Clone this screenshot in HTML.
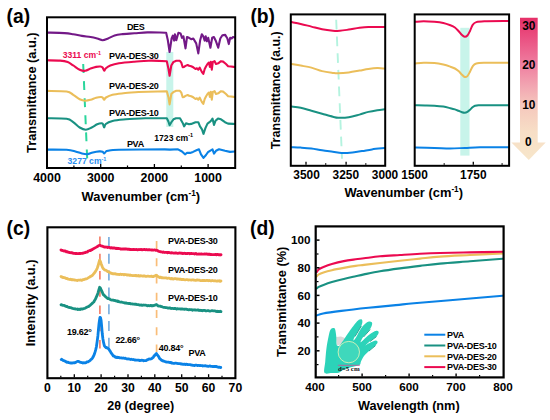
<!DOCTYPE html>
<html><head><meta charset="utf-8"><style>
html,body{margin:0;padding:0;background:#fff;}
body{width:550px;height:420px;overflow:hidden;}
svg{display:block;font-family:"Liberation Sans",sans-serif;}
</style></head><body>
<svg width="550" height="420" viewBox="0 0 550 420">
<rect width="550" height="420" fill="#fff"/>
<rect x="166.3" y="52" width="7" height="75" fill="#c8f4ea"/>
<line x1="83.2" y1="64" x2="87.2" y2="159" stroke="#2ad69c" stroke-width="2" stroke-dasharray="9,8.1"/>
<path d="M47.00,32.60 C49.92,32.68 60.13,32.83 64.50,33.10 C68.87,33.37 70.30,33.73 73.20,34.20 C76.10,34.67 79.00,35.43 81.90,35.90 C84.80,36.37 88.05,36.57 90.60,37.00 C93.15,37.43 95.20,37.97 97.20,38.50 C99.20,39.03 100.78,40.20 102.60,40.20 C104.42,40.20 106.10,39.28 108.10,38.50 C110.10,37.72 112.42,36.22 114.60,35.50 C116.78,34.78 117.92,34.57 121.20,34.20 C124.48,33.83 129.93,33.60 134.30,33.30 C138.67,33.00 143.12,32.53 147.40,32.40 C151.68,32.27 156.87,32.42 160.00,32.50 C163.13,32.58 165.17,32.83 166.20,32.90 L167.80,40.00 L169.60,52.00 L171.60,38.50 L172.80,35.60 L174.20,40.60 L174.90,34.20 L176.30,40.20 L178.40,32.80 L180.60,33.50 L182.00,37.80 L183.40,36.30 L185.50,48.40 L187.00,37.00 L189.00,37.80 L191.20,39.20 L193.30,38.50 L196.20,43.40 L198.30,53.40 L200.10,40.60 L201.80,34.20 L203.30,36.30 L204.70,40.60 L205.70,36.30 L206.80,41.30 L208.20,37.80 L210.40,47.70 L212.20,37.80 L213.90,37.00 L216.00,41.30 L218.20,47.70 L220.30,38.50 L222.40,35.20 L225.20,34.90 L227.40,38.50 L228.80,44.10 L230.20,37.80 L231.60,38.50 L233.00,37.00 L235.00,37.50" fill="none" stroke="#731987" stroke-width="2.1" stroke-linejoin="round" stroke-linecap="round"/>
<path d="M47.00,60.30 C49.18,60.35 56.65,60.30 60.10,60.60 C63.55,60.90 65.52,61.30 67.70,62.10 C69.88,62.90 71.20,64.13 73.20,65.40 C75.20,66.67 77.70,68.80 79.70,69.70 C81.70,70.60 83.38,70.98 85.20,70.80 C87.02,70.62 88.78,69.25 90.60,68.60 C92.42,67.95 94.45,67.25 96.10,66.90 C97.75,66.55 99.42,66.40 100.50,66.50 C101.58,66.60 101.98,66.78 102.60,67.50 C103.22,68.22 103.65,70.68 104.20,70.80 C104.75,70.92 104.88,69.10 105.90,68.20 C106.92,67.30 108.12,66.23 110.30,65.40 C112.48,64.57 115.00,63.82 119.00,63.20 C123.00,62.58 128.85,62.13 134.30,61.70 C139.75,61.27 148.80,60.78 151.70,60.60 L166.80,61.20 L168.50,69.00 L169.60,75.80 L171.30,65.50 L173.50,61.90 L176.30,60.80 L179.90,60.80 L181.30,62.60 L182.70,67.30 L184.10,66.90 L185.50,65.90 L187.70,65.00 L189.10,65.80 L191.20,66.20 L193.30,67.30 L195.50,69.00 L196.90,68.30 L198.30,69.70 L199.70,67.60 L201.80,71.90 L203.30,74.00 L204.70,69.00 L206.10,66.20 L207.50,64.00 L208.90,62.60 L209.90,66.90 L210.80,61.90 L211.80,69.70 L212.80,61.90 L214.60,61.20 L216.00,64.00 L218.20,63.30 L221.00,61.20 L223.10,61.60 L226.00,64.00 L228.10,66.20 L230.90,66.50 L233.80,66.90 L235.00,67.00" fill="none" stroke="#eb0a50" stroke-width="2.1" stroke-linejoin="round" stroke-linecap="round"/>
<path d="M47.00,90.90 C50.27,91.00 62.23,90.85 66.60,91.50 C70.97,92.15 71.02,93.52 73.20,94.80 C75.38,96.08 77.70,98.22 79.70,99.20 C81.70,100.18 83.38,100.60 85.20,100.70 C87.02,100.80 88.78,100.30 90.60,99.80 C92.42,99.30 94.35,98.17 96.10,97.70 C97.85,97.23 99.98,96.98 101.10,97.00 C102.22,97.02 102.28,97.33 102.80,97.80 C103.32,98.27 103.67,99.85 104.20,99.80 C104.73,99.75 104.62,98.33 106.00,97.50 C107.38,96.67 109.60,95.50 112.50,94.80 C115.40,94.10 119.05,93.77 123.40,93.30 C127.75,92.83 136.07,92.22 138.60,92.00 L166.80,91.20 L168.50,97.60 L169.60,104.40 L171.30,94.10 L173.50,91.90 L176.30,90.80 L179.90,90.80 L181.30,92.60 L182.70,97.30 L184.10,96.90 L185.50,95.90 L187.70,95.00 L189.10,95.80 L191.20,96.20 L193.30,97.30 L195.50,99.00 L196.90,98.30 L198.30,99.70 L199.70,97.60 L201.80,101.90 L203.30,104.00 L204.70,99.00 L206.10,96.20 L207.50,94.00 L208.90,92.60 L209.90,96.90 L210.80,91.90 L211.80,99.70 L212.80,91.90 L214.60,91.20 L216.00,94.00 L218.20,93.30 L221.00,91.20 L223.10,91.60 L226.00,94.00 L228.10,96.20 L230.90,96.50 L233.80,96.90 L235.00,97.00" fill="none" stroke="#ebbe5a" stroke-width="2.1" stroke-linejoin="round" stroke-linecap="round"/>
<path d="M47.00,118.20 C50.27,118.30 62.23,118.15 66.60,118.80 C70.97,119.45 71.02,120.65 73.20,122.10 C75.38,123.55 77.60,126.23 79.70,127.50 C81.80,128.77 83.80,129.70 85.80,129.70 C87.80,129.70 89.80,128.40 91.70,127.50 C93.60,126.60 95.57,125.02 97.20,124.30 C98.83,123.58 100.55,123.25 101.50,123.20 C102.45,123.15 102.45,123.28 102.90,124.00 C103.35,124.72 103.72,127.50 104.20,127.50 C104.68,127.50 104.42,125.08 105.80,124.00 C107.18,122.92 109.57,121.75 112.50,121.00 C115.43,120.25 117.95,119.97 123.40,119.50 C128.85,119.03 141.57,118.42 145.20,118.20 L166.80,118.20 L168.40,121.50 L169.60,125.20 L171.50,122.00 L173.50,119.30 L176.00,118.20 L180.00,118.20 L182.70,122.90 L184.10,126.40 L186.00,123.30 L189.00,124.30 L191.20,123.90 L195.50,122.20 L198.30,122.20 L200.00,126.40 L202.00,129.30 L203.50,133.80 L205.50,127.90 L207.50,123.60 L209.50,122.20 L211.00,120.80 L212.50,118.60 L214.00,125.00 L215.50,120.80 L218.00,118.60 L221.00,119.30 L225.00,122.20 L228.00,123.60 L233.00,123.90 L235.00,124.00" fill="none" stroke="#199182" stroke-width="2.1" stroke-linejoin="round" stroke-linecap="round"/>
<path d="M47.00,149.60 C50.27,149.63 61.87,149.50 66.60,149.80 C71.33,150.10 72.85,150.78 75.40,151.40 C77.95,152.02 79.90,153.03 81.90,153.50 C83.90,153.97 85.58,154.37 87.40,154.20 C89.22,154.03 90.80,152.97 92.80,152.50 C94.80,152.03 97.77,151.52 99.40,151.40 C101.03,151.28 101.80,151.45 102.60,151.80 C103.40,152.15 103.63,153.55 104.20,153.50 C104.77,153.45 105.35,151.97 106.00,151.50 C106.65,151.03 105.93,150.98 108.10,150.70 C110.27,150.42 109.55,150.02 119.00,149.80 C128.45,149.58 157.17,149.47 164.80,149.40 L170.00,149.60 L178.00,149.30 L182.00,151.50 L185.00,154.30 L187.00,152.90 L190.00,152.90 L193.00,151.90 L197.00,150.00 L199.00,149.30 L201.00,154.30 L203.50,157.90 L206.00,155.00 L208.00,152.20 L210.00,150.80 L212.50,149.30 L214.00,153.60 L216.00,150.80 L219.00,149.30 L225.00,150.80 L230.00,151.90 L235.00,151.50" fill="none" stroke="#0a82e6" stroke-width="2.1" stroke-linejoin="round" stroke-linecap="round"/>
<rect x="47" y="17.3" width="188.2" height="150.7" fill="none" stroke="#000" stroke-width="2"/>
<line x1="100.7" y1="167" x2="100.7" y2="164" stroke="#000" stroke-width="1.3"/>
<line x1="154.4" y1="167" x2="154.4" y2="164" stroke="#000" stroke-width="1.3"/>
<line x1="208.1" y1="167" x2="208.1" y2="164" stroke="#000" stroke-width="1.3"/>
<line x1="73.9" y1="167" x2="73.9" y2="165.5" stroke="#000" stroke-width="1.2"/>
<line x1="127.5" y1="167" x2="127.5" y2="165.5" stroke="#000" stroke-width="1.2"/>
<line x1="181.3" y1="167" x2="181.3" y2="165.5" stroke="#000" stroke-width="1.2"/>
<text x="47" y="181.7" font-size="12.4" font-weight="bold" fill="#000" text-anchor="middle" >4000</text>
<text x="100.7" y="181.7" font-size="12.4" font-weight="bold" fill="#000" text-anchor="middle" >3000</text>
<text x="154.4" y="181.7" font-size="12.4" font-weight="bold" fill="#000" text-anchor="middle" >2000</text>
<text x="208.1" y="181.7" font-size="12.4" font-weight="bold" fill="#000" text-anchor="middle" >1000</text>
<text x="81.6" y="201.3" font-size="12.9" font-weight="bold">Wavenumber (cm<tspan font-size="8.2" dy="-5.2">-1</tspan><tspan dy="5.2">)</tspan></text>
<text transform="translate(35.8,92.7) rotate(-90)" font-size="12.75" font-weight="bold" text-anchor="middle">Transmittance (a.u.)</text>
<text x="6.6" y="22.6" font-size="19.3" font-weight="bold" fill="#000" text-anchor="start" >(a)</text>
<text x="126.9" y="30" font-size="9" font-weight="bold" fill="#000" text-anchor="start" letter-spacing="-0.28">DES</text>
<text x="109" y="58.5" font-size="9" font-weight="bold" fill="#000" text-anchor="start" letter-spacing="-0.28">PVA-DES-30</text>
<text x="109" y="89" font-size="9" font-weight="bold" fill="#000" text-anchor="start" letter-spacing="-0.28">PVA-DES-20</text>
<text x="109" y="116.2" font-size="9" font-weight="bold" fill="#000" text-anchor="start" letter-spacing="-0.28">PVA-DES-10</text>
<text x="126.9" y="146.6" font-size="9" font-weight="bold" fill="#000" text-anchor="start" letter-spacing="-0.28">PVA</text>
<text x="62.7" y="58.3" font-size="8.6" font-weight="bold" fill="#eb0a50">3311 cm<tspan font-size="5.5" dy="-3.5">-1</tspan></text>
<text x="67.6" y="164.3" font-size="8.6" font-weight="bold" fill="#2a8ef0">3277 cm<tspan font-size="5.5" dy="-3.5">-1</tspan></text>
<text x="154.3" y="140.5" font-size="8.6" font-weight="bold">1723 cm<tspan font-size="5.5" dy="-3.5">-1</tspan></text>
<text x="250.4" y="22.6" font-size="19.3" font-weight="bold" fill="#000" text-anchor="start" >(b)</text>
<text transform="translate(280.1,90.3) rotate(-90)" font-size="12.5" font-weight="bold" text-anchor="middle">Transmittance (a.u.)</text>
<line x1="336.2" y1="19.8" x2="342" y2="158.8" stroke="#b4f3df" stroke-width="1.9" stroke-dasharray="9.7,7"/>
<path d="M291.50,22.10 C293.03,22.40 297.38,23.15 300.70,23.90 C304.02,24.65 307.83,25.70 311.40,26.60 C314.97,27.50 318.53,28.62 322.10,29.30 C325.67,29.98 329.83,30.45 332.80,30.70 C335.77,30.95 337.23,30.98 339.90,30.80 C342.57,30.62 345.53,30.10 348.80,29.60 C352.07,29.10 356.23,28.25 359.50,27.80 C362.77,27.35 365.43,27.02 368.40,26.90 C371.37,26.78 374.62,27.07 377.30,27.10 C379.98,27.13 383.30,27.10 384.50,27.10" fill="none" stroke="#eb0a50" stroke-width="2.0" stroke-linejoin="round" stroke-linecap="round" />
<path d="M291.50,64.00 C293.03,64.27 297.38,65.00 300.70,65.60 C304.02,66.20 307.83,66.68 311.40,67.60 C314.97,68.52 318.53,70.22 322.10,71.10 C325.67,71.98 330.13,72.53 332.80,72.90 C335.47,73.27 335.43,73.38 338.10,73.30 C340.77,73.22 345.23,72.85 348.80,72.40 C352.37,71.95 356.23,71.17 359.50,70.60 C362.77,70.03 365.43,69.42 368.40,69.00 C371.37,68.58 374.62,68.18 377.30,68.10 C379.98,68.02 383.30,68.43 384.50,68.50" fill="none" stroke="#ebbe5a" stroke-width="2.0" stroke-linejoin="round" stroke-linecap="round" />
<path d="M291.50,106.60 C293.03,106.80 297.38,107.12 300.70,107.80 C304.02,108.48 307.83,109.72 311.40,110.70 C314.97,111.68 318.53,112.70 322.10,113.70 C325.67,114.70 330.13,116.02 332.80,116.70 C335.47,117.38 335.43,117.70 338.10,117.80 C340.77,117.90 345.23,117.83 348.80,117.30 C352.37,116.77 356.23,115.50 359.50,114.60 C362.77,113.70 365.43,112.63 368.40,111.90 C371.37,111.17 374.62,110.63 377.30,110.20 C379.98,109.77 383.30,109.45 384.50,109.30" fill="none" stroke="#199182" stroke-width="2.0" stroke-linejoin="round" stroke-linecap="round" />
<path d="M291.50,147.20 C293.03,147.27 297.38,147.38 300.70,147.60 C304.02,147.82 307.83,148.05 311.40,148.50 C314.97,148.95 318.53,149.77 322.10,150.30 C325.67,150.83 329.53,151.27 332.80,151.70 C336.07,152.13 338.42,152.78 341.70,152.90 C344.98,153.02 349.12,152.70 352.50,152.40 C355.88,152.10 358.75,151.60 362.00,151.10 C365.25,150.60 368.25,149.90 372.00,149.40 C375.75,148.90 382.42,148.32 384.50,148.10" fill="none" stroke="#0a82e6" stroke-width="2.0" stroke-linejoin="round" stroke-linecap="round" />
<rect x="290.8" y="14.4" width="94.4" height="151.4" fill="none" stroke="#000" stroke-width="2"/>
<line x1="306" y1="164.8" x2="306" y2="161.8" stroke="#000" stroke-width="1.3"/>
<line x1="346.1" y1="164.8" x2="346.1" y2="161.8" stroke="#000" stroke-width="1.3"/>
<line x1="325.7" y1="164.8" x2="325.7" y2="163.3" stroke="#000" stroke-width="1.2"/>
<line x1="365.8" y1="164.8" x2="365.8" y2="163.3" stroke="#000" stroke-width="1.2"/>
<text x="306.6" y="179" font-size="11.9" font-weight="bold" fill="#000" text-anchor="middle" >3500</text>
<text x="345.8" y="179" font-size="11.9" font-weight="bold" fill="#000" text-anchor="middle" >3250</text>
<text x="385" y="179" font-size="11.9" font-weight="bold" fill="#000" text-anchor="middle" >3000</text>
<rect x="460.3" y="27.8" width="9.2" height="127.8" fill="#c8f4ea"/>
<path d="M415.50,21.80 C416.87,21.70 420.55,21.20 423.70,21.20 C426.85,21.20 431.13,21.50 434.40,21.80 C437.67,22.10 440.63,22.42 443.30,23.00 C445.97,23.58 448.47,24.55 450.40,25.30 C452.33,26.05 453.55,26.55 454.90,27.50 C456.25,28.45 457.32,29.75 458.50,31.00 C459.68,32.25 460.97,34.05 462.00,35.00 C463.03,35.95 463.80,36.62 464.70,36.70 C465.60,36.78 466.52,36.45 467.40,35.50 C468.28,34.55 469.12,32.78 470.00,31.00 C470.88,29.22 471.65,26.28 472.70,24.80 C473.75,23.32 474.37,22.70 476.30,22.10 C478.23,21.50 478.93,21.40 484.30,21.20 C489.67,21.00 504.47,20.95 508.50,20.90" fill="none" stroke="#eb0a50" stroke-width="2.0" stroke-linejoin="round" stroke-linecap="round" />
<path d="M415.50,63.50 C416.87,63.38 420.55,62.87 423.70,62.80 C426.85,62.73 431.13,62.80 434.40,63.10 C437.67,63.40 440.63,64.00 443.30,64.60 C445.97,65.20 448.47,66.05 450.40,66.70 C452.33,67.35 453.55,67.77 454.90,68.50 C456.25,69.23 457.32,70.07 458.50,71.10 C459.68,72.13 460.97,73.72 462.00,74.70 C463.03,75.68 463.80,76.77 464.70,77.00 C465.60,77.23 466.52,76.98 467.40,76.10 C468.28,75.22 469.12,73.33 470.00,71.70 C470.88,70.07 471.65,67.67 472.70,66.30 C473.75,64.93 474.37,64.08 476.30,63.50 C478.23,62.92 478.93,62.92 484.30,62.80 C489.67,62.68 504.47,62.80 508.50,62.80" fill="none" stroke="#ebbe5a" stroke-width="2.0" stroke-linejoin="round" stroke-linecap="round" />
<path d="M415.50,105.30 C417.08,105.32 421.85,105.33 425.00,105.40 C428.15,105.47 431.35,105.50 434.40,105.70 C437.45,105.90 440.63,106.18 443.30,106.60 C445.97,107.02 448.47,107.73 450.40,108.20 C452.33,108.67 453.55,108.97 454.90,109.40 C456.25,109.83 457.32,110.32 458.50,110.80 C459.68,111.28 460.97,111.97 462.00,112.30 C463.03,112.63 463.80,112.87 464.70,112.80 C465.60,112.73 466.52,112.40 467.40,111.90 C468.28,111.40 469.15,110.57 470.00,109.80 C470.85,109.03 471.67,107.97 472.50,107.30 C473.33,106.63 474.00,106.13 475.00,105.80 C476.00,105.47 476.00,105.38 478.50,105.30 C481.00,105.22 485.00,105.30 490.00,105.30 C495.00,105.30 505.42,105.30 508.50,105.30" fill="none" stroke="#199182" stroke-width="2.0" stroke-linejoin="round" stroke-linecap="round" />
<path d="M415.50,147.60 C418.65,147.65 428.65,147.75 434.40,147.90 C440.15,148.05 444.90,148.50 450.00,148.50 C455.10,148.50 460.00,148.12 465.00,147.90 C470.00,147.68 472.75,147.32 480.00,147.20 C487.25,147.08 503.75,147.20 508.50,147.20" fill="none" stroke="#0a82e6" stroke-width="2.0" stroke-linejoin="round" stroke-linecap="round" />
<rect x="414.7" y="14.4" width="94.4" height="151.4" fill="none" stroke="#000" stroke-width="2"/>
<line x1="473.3" y1="164.8" x2="473.3" y2="161.8" stroke="#000" stroke-width="1.3"/>
<line x1="444.2" y1="164.8" x2="444.2" y2="163.3" stroke="#000" stroke-width="1.2"/>
<line x1="502.1" y1="164.8" x2="502.1" y2="163.3" stroke="#000" stroke-width="1.2"/>
<text x="414.6" y="179" font-size="11.9" font-weight="bold" fill="#000" text-anchor="middle" >1500</text>
<text x="473.3" y="179" font-size="11.9" font-weight="bold" fill="#000" text-anchor="middle" >1750</text>
<text x="344.4" y="197.4" font-size="12.9" font-weight="bold">Wavenumber (cm<tspan font-size="8.2" dy="-5.2">-1</tspan><tspan dy="5.2">)</tspan></text>
<defs><linearGradient id="gb" x1="0" y1="0" x2="0" y2="1">
<stop offset="0" stop-color="#e62f68"/><stop offset="0.15" stop-color="#ea5283"/><stop offset="0.33" stop-color="#ef7fa0"/><stop offset="0.48" stop-color="#f2a6b2"/><stop offset="0.62" stop-color="#f5c8bd"/><stop offset="0.8" stop-color="#f7dec6"/><stop offset="1" stop-color="#f7e6ca"/></linearGradient></defs>
<path d="M520,17.8 L537.7,17.8 L537.7,142.6 L545.7,142.6 L528.8,160 L511.4,142.6 L520,142.6 Z" fill="url(#gb)"/>
<text x="528.8" y="29.6" font-size="11.9" font-weight="bold" fill="#000" text-anchor="middle" >30</text>
<text x="528.8" y="69.2" font-size="11.9" font-weight="bold" fill="#000" text-anchor="middle" >20</text>
<text x="528.8" y="108.6" font-size="11.9" font-weight="bold" fill="#000" text-anchor="middle" >10</text>
<text x="528.4" y="146.4" font-size="11.9" font-weight="bold" fill="#000" text-anchor="middle" >0</text>
<text x="6.6" y="235.4" font-size="19.3" font-weight="bold" fill="#000" text-anchor="start" >(c)</text>
<text transform="translate(35.3,302.9) rotate(-90)" font-size="12.8" font-weight="bold" text-anchor="middle">Intensity (a.u.)</text>
<line x1="99.9" y1="236.4" x2="99.9" y2="349" stroke="#f5826c" stroke-width="1.7" stroke-dasharray="8.5,8.77"/>
<line x1="108.9" y1="237" x2="108.9" y2="349" stroke="#7cb0e0" stroke-width="1.7" stroke-dasharray="10,6.8"/>
<line x1="156.6" y1="241" x2="156.6" y2="352" stroke="#f9bd78" stroke-width="1.7" stroke-dasharray="8,9.25"/>
<polyline points="61.0,249.9 61.5,250.3 62.2,250.4 63.0,250.7 63.8,251.0 64.8,250.9 65.7,251.1 66.3,251.8 67.0,251.6 67.7,251.8 68.4,252.4 69.2,252.3 69.9,252.7 70.6,252.6 71.4,252.9 72.1,252.7 72.8,253.1 73.5,253.4 74.3,253.3 75.0,253.5 75.7,253.6 76.4,253.3 77.2,253.7 77.9,253.7 78.6,253.5 79.3,253.3 80.0,253.7 80.8,253.4 81.5,253.4 82.2,253.4 82.9,253.1 83.6,253.1 84.3,252.6 85.0,252.7 85.8,252.2 86.7,252.2 87.4,251.9 88.2,251.1 89.0,250.8 89.7,250.5 90.4,250.7 91.3,249.9 92.2,249.6 93.0,249.0 93.8,248.6 94.6,248.1 95.5,247.6 96.4,247.1 97.2,246.6 97.9,246.3 98.8,245.5 99.6,245.3 100.3,245.4 101.1,246.0 102.1,246.2 102.7,246.1 103.2,246.7 103.9,246.9 104.6,247.0 105.4,247.0 106.4,247.2 107.0,247.0 107.5,247.5 108.1,247.4 108.8,247.3 109.5,247.3 110.2,247.9 110.9,248.0 111.7,247.6 112.4,248.1 113.3,248.0 114.1,247.9 115.0,248.1 115.6,248.4 116.2,248.6 116.9,248.1 117.6,248.5 118.3,248.3 119.0,248.7 119.7,248.6 120.5,249.0 121.2,249.1 122.0,248.9 122.7,249.2 123.5,248.9 124.3,248.8 125.0,249.2 125.7,248.9 126.5,249.0 127.2,249.2 127.9,249.4 128.6,249.1 129.3,249.1 130.0,249.6 130.7,249.3 131.4,249.7 132.1,249.7 132.7,249.4 133.4,249.5 134.1,249.5 134.8,249.6 135.5,249.6 136.2,249.5 136.9,249.6 137.6,249.8 138.4,249.6 139.2,249.5 140.0,249.7 140.6,249.5 141.3,249.5 142.0,249.9 142.7,249.7 143.5,249.7 144.3,249.4 145.1,249.7 145.9,249.8 146.7,249.5 147.5,249.9 148.3,249.9 149.1,249.6 149.9,249.9 150.6,249.9 151.4,250.0 152.1,249.9 152.8,250.1 153.5,250.2 154.1,249.8 154.7,249.8 155.3,250.2 155.8,250.4 156.2,250.1 157.7,250.5 158.0,250.9 158.2,251.1 159.2,251.5 159.7,251.6 160.2,251.7 160.8,251.9 161.3,251.8 162.0,252.0 162.6,252.3 163.3,251.9 164.0,252.3 164.8,252.5 165.6,252.3 166.5,252.3 167.4,252.8 168.3,252.5 169.3,252.5 170.3,252.8 170.9,253.0 171.5,252.6 172.1,252.8 172.8,252.8 173.4,253.2 174.1,253.0 174.8,253.2 175.6,252.9 176.3,253.0 177.0,253.2 177.8,253.4 178.6,253.2 179.4,253.0 180.1,253.0 180.9,253.3 181.7,253.1 182.5,253.5 183.3,253.5 184.1,253.2 184.8,253.3 185.6,253.6 186.4,253.5 187.1,253.7 187.8,253.4 188.6,253.3 189.3,253.4 189.9,253.8 190.6,253.5 191.4,253.5 192.2,253.6 193.0,253.6 193.8,253.7 194.6,254.0 195.3,253.6 196.1,253.5 196.8,254.1 197.6,254.1 198.3,254.2 199.0,253.9 199.7,254.2 200.4,254.2 201.2,253.8 201.9,254.2 202.6,254.2 203.2,254.2 203.9,254.1 204.6,254.0 205.3,254.1 206.0,254.0 206.7,253.9 207.5,254.3 208.3,254.1 209.1,254.5 209.9,254.1 210.7,254.6 211.6,254.5 212.4,254.7 213.2,254.7 214.1,254.7 214.9,254.6 215.6,254.3 216.4,254.8 217.1,254.4 217.8,254.5 218.5,254.8 219.1,254.7 219.6,254.7 220.2,255.0 220.6,254.9 221.0,254.7" fill="none" stroke="#eb0a50" stroke-width="2.8" stroke-linejoin="round" stroke-linecap="round" />
<polyline points="61.0,276.5 61.5,277.0 62.2,277.0 63.0,277.5 63.8,277.5 64.8,277.7 65.7,278.2 66.3,278.6 67.0,278.4 67.7,278.9 68.4,279.2 69.2,279.3 69.9,279.5 70.6,279.1 71.4,279.6 72.1,279.9 72.8,279.6 73.5,279.8 74.3,279.9 75.0,280.2 75.7,280.2 76.4,280.3 77.2,280.5 77.9,280.1 78.6,280.1 79.3,280.1 80.0,280.1 80.8,280.0 81.5,280.4 82.2,280.2 82.9,279.6 83.6,279.7 84.3,279.4 85.0,279.2 85.8,278.9 86.7,278.8 87.4,278.4 88.2,277.9 89.0,277.4 89.7,277.0 90.4,276.5 91.3,276.1 92.2,275.5 93.0,274.6 93.8,273.6 94.6,272.7 95.5,271.4 96.4,269.9 97.2,268.3 97.9,266.3 98.9,262.7 99.6,260.1 100.4,261.4 101.3,264.2 102.2,266.6 103.2,268.7 103.9,269.2 104.7,269.9 105.5,270.2 106.4,270.5 107.1,271.1 107.8,271.6 108.5,271.6 109.2,272.2 110.0,272.6 110.7,273.1 111.3,273.4 111.8,273.2 112.3,273.7 112.9,273.8 113.8,273.6 115.0,273.9 115.5,273.7 116.0,274.2 116.6,274.2 117.2,274.4 117.9,274.4 118.5,274.4 119.2,274.5 120.0,274.4 120.7,274.2 121.5,274.6 122.3,274.3 123.1,274.4 123.9,274.9 124.7,274.5 125.5,274.6 126.3,274.6 127.1,275.2 127.9,274.8 128.6,274.8 129.3,275.3 130.0,274.9 130.7,275.4 131.4,275.4 132.2,275.5 133.0,275.7 133.7,275.5 134.5,275.7 135.3,275.3 136.1,275.8 136.8,275.7 137.6,275.8 138.4,275.5 139.1,276.0 139.9,276.1 140.6,275.6 141.3,275.8 142.0,276.0 142.6,276.2 143.3,275.9 143.9,275.9 144.8,276.0 145.7,276.3 146.6,276.4 147.5,276.2 148.3,276.2 149.1,276.3 149.9,276.3 150.7,276.3 151.4,276.1 152.0,276.4 152.6,276.7 153.2,276.3 153.7,276.5 154.2,276.1 155.7,275.6 156.2,275.2 156.7,275.4 157.1,275.9 157.9,276.5 159.2,277.2 159.7,277.5 160.2,277.1 160.8,277.2 161.3,277.7 162.0,277.9 162.6,277.7 163.3,277.8 164.0,278.0 164.8,277.8 165.6,277.9 166.5,278.0 167.4,278.3 168.3,278.2 169.3,278.2 170.3,278.6 170.9,278.8 171.4,278.5 172.0,278.8 172.6,278.6 173.2,279.0 173.9,278.9 174.5,278.7 175.1,278.7 175.8,278.7 176.5,279.0 177.1,279.0 177.8,278.9 178.5,279.1 179.2,279.1 180.0,279.4 180.7,279.1 181.5,279.7 182.2,279.4 183.0,279.5 183.8,279.5 184.6,279.8 185.4,279.8 186.2,279.7 187.1,279.7 187.9,279.9 188.8,280.0 189.7,279.8 190.6,280.0 191.2,280.2 191.8,279.9 192.5,279.8 193.2,279.9 193.9,280.2 194.6,280.2 195.3,280.4 196.1,280.4 196.8,280.0 197.6,280.0 198.4,280.1 199.2,280.1 200.0,280.4 200.8,280.6 201.7,280.6 202.5,280.3 203.3,280.7 204.2,280.4 205.0,280.5 205.8,280.7 206.7,280.3 207.5,280.4 208.3,280.8 209.1,280.5 209.9,280.6 210.7,280.8 211.5,280.9 212.2,280.5 213.0,280.7 213.7,280.8 214.4,280.8 215.1,280.7 215.8,281.0 216.5,281.2 217.1,280.9 217.7,281.0 218.2,280.8 218.8,280.9 219.3,281.1 219.8,280.8 220.2,281.3 220.6,281.3 221.0,280.9" fill="none" stroke="#ebbe5a" stroke-width="2.8" stroke-linejoin="round" stroke-linecap="round" />
<polyline points="61.0,304.8 61.5,304.6 62.2,305.1 63.0,305.3 63.8,305.3 64.8,305.9 65.7,306.2 66.3,306.5 67.0,306.4 67.7,307.0 68.4,307.3 69.2,307.4 69.9,307.6 70.6,307.6 71.4,308.0 72.1,308.1 72.8,308.5 73.5,308.7 74.3,308.8 75.0,308.7 75.7,309.1 76.4,309.2 77.2,309.0 77.9,309.5 78.6,309.4 79.3,309.1 80.0,309.5 80.8,309.0 81.5,309.0 82.2,309.1 82.9,308.9 83.6,308.7 84.3,308.5 85.0,308.2 85.8,307.8 86.7,307.3 87.4,306.8 88.2,306.7 89.0,306.2 89.7,305.6 90.4,305.1 91.3,304.2 92.2,303.4 93.0,302.6 93.8,302.0 94.6,300.4 95.5,299.0 96.4,296.9 97.2,295.2 97.9,293.1 98.9,289.6 99.6,287.3 100.4,288.1 101.3,290.2 102.2,292.0 103.2,294.5 103.9,295.0 104.7,295.9 105.5,296.6 106.4,297.3 107.1,298.1 107.8,298.5 108.5,298.5 109.2,298.8 110.0,299.3 110.7,299.7 111.3,300.0 111.8,300.1 112.3,300.2 112.9,300.0 113.8,300.4 115.0,300.5 115.5,300.8 116.0,301.0 116.6,300.9 117.2,301.0 117.9,301.5 118.5,301.2 119.2,301.8 120.0,302.0 120.7,302.2 121.5,302.0 122.3,302.3 123.1,302.5 123.9,302.7 124.7,303.0 125.5,303.0 126.3,302.9 127.1,303.4 127.9,303.3 128.6,303.5 129.3,303.6 130.0,303.3 130.7,303.9 131.4,303.9 132.2,303.9 133.0,304.1 133.7,304.1 134.5,304.1 135.3,304.4 136.1,304.2 136.8,304.6 137.6,304.7 138.4,304.7 139.1,304.9 139.9,305.2 140.6,305.2 141.3,304.8 142.0,305.3 142.6,305.3 143.3,305.0 143.9,305.2 144.8,305.2 145.7,305.2 146.6,305.5 147.5,305.8 148.3,305.4 149.1,305.8 149.9,305.7 150.7,305.3 151.4,305.8 152.0,305.6 152.6,305.8 153.2,305.6 153.7,305.6 154.2,305.3 155.7,304.9 156.2,304.5 156.7,304.7 157.1,305.0 157.9,305.8 159.2,306.2 159.7,306.1 160.2,306.2 160.8,306.4 161.3,306.6 162.0,306.7 162.6,307.0 163.3,307.3 164.0,307.3 164.8,307.4 165.6,307.7 166.5,307.6 167.4,307.8 168.3,308.1 169.3,308.0 170.3,308.0 170.9,308.5 171.4,308.5 172.0,308.3 172.6,308.4 173.2,308.5 173.9,308.6 174.5,308.5 175.1,308.4 175.8,308.6 176.5,309.0 177.1,308.6 177.8,308.9 178.5,308.8 179.2,308.8 180.0,308.9 180.7,309.1 181.5,309.0 182.2,309.0 183.0,309.1 183.8,309.1 184.6,309.4 185.4,309.2 186.2,309.2 187.1,309.5 187.9,309.6 188.8,309.8 189.7,309.5 190.6,309.7 191.2,309.8 191.8,309.6 192.5,310.2 193.2,309.8 193.9,309.8 194.6,310.0 195.3,309.9 196.1,310.2 196.8,310.1 197.6,310.0 198.4,310.0 199.2,310.5 200.0,310.2 200.8,310.6 201.7,310.4 202.5,310.8 203.3,310.4 204.2,310.4 205.0,310.5 205.8,310.9 206.7,310.8 207.5,310.7 208.3,310.6 209.1,311.0 209.9,311.2 210.7,311.0 211.5,310.7 212.2,310.7 213.0,310.8 213.7,310.9 214.4,310.9 215.1,310.9 215.8,311.3 216.5,311.5 217.1,311.1 217.7,311.6 218.2,311.3 218.8,311.6 219.3,311.7 219.8,311.7 220.2,311.2 220.6,311.4 221.0,311.6" fill="none" stroke="#199182" stroke-width="2.8" stroke-linejoin="round" stroke-linecap="round" />
<polyline points="61.2,359.6 61.7,359.3 62.3,359.8 63.1,360.6 64.0,360.6 64.8,361.2 65.7,361.5 66.4,362.0 67.2,362.4 68.0,362.1 68.8,362.7 69.6,362.8 70.4,363.0 71.1,362.9 71.9,363.2 72.7,362.8 73.5,362.8 74.2,362.6 74.9,362.8 75.5,362.5 76.5,361.9 77.4,361.4 78.2,361.4 79.1,361.6 79.9,362.2 80.9,362.4 81.6,362.7 82.3,362.6 83.0,363.0 83.8,362.7 84.5,362.9 85.2,362.9 85.9,362.7 86.6,362.1 87.3,361.8 88.0,361.8 88.7,361.3 89.5,360.9 90.2,360.4 90.9,359.5 91.6,359.1 92.6,357.8 93.5,356.2 94.3,354.4 95.1,351.9 95.8,349.4 96.4,346.7 97.2,341.1 97.9,335.7 98.5,328.9 99.1,322.9 99.6,319.5 100.0,317.3 100.5,317.5 101.1,320.3 101.7,326.9 102.3,334.0 102.9,338.7 103.6,342.7 104.4,345.9 105.4,347.1 106.1,347.8 107.0,347.7 107.7,348.1 108.6,348.8 109.5,350.2 110.3,351.4 111.1,352.9 112.1,354.3 112.7,354.9 113.3,356.0 114.0,356.0 114.7,356.4 115.7,357.4 116.3,357.1 116.9,357.6 117.5,357.2 118.2,357.5 118.9,357.4 119.6,357.9 120.4,357.8 121.2,357.9 122.0,358.0 122.9,358.2 123.5,358.0 124.2,358.3 124.8,358.3 125.5,358.2 126.2,358.8 126.9,358.8 127.7,359.0 128.4,358.8 129.2,359.1 129.9,359.2 130.7,359.5 131.4,359.2 132.1,359.5 132.9,359.7 133.6,359.5 134.3,359.9 135.1,360.1 135.8,360.0 136.6,360.2 137.4,360.2 138.2,360.1 139.0,360.2 139.8,360.7 140.5,360.3 141.2,360.4 141.9,360.2 142.6,360.3 143.2,360.3 143.8,360.8 144.3,360.6 145.5,360.6 146.3,360.5 147.0,359.9 147.5,359.8 148.2,359.3 149.0,359.0 149.9,359.1 150.8,358.9 151.6,358.6 152.3,358.0 153.3,357.3 154.0,356.0 154.7,355.5 155.6,354.3 156.4,353.5 157.3,354.9 158.3,356.1 158.9,357.0 159.5,358.4 160.3,359.1 161.3,360.1 161.8,360.5 162.4,360.4 163.0,361.1 163.6,361.0 164.3,361.3 165.0,361.5 165.8,361.9 166.8,362.1 167.8,362.1 168.4,362.1 168.9,362.3 169.6,362.5 170.2,362.4 170.9,362.5 171.6,363.0 172.3,363.0 173.0,363.3 173.7,363.4 174.5,363.4 175.3,363.2 176.0,363.2 176.8,363.3 177.6,363.5 178.4,363.6 179.3,363.7 180.1,363.7 180.9,364.1 181.5,363.8 182.2,364.0 182.9,364.4 183.6,364.4 184.3,364.1 185.0,364.2 185.7,364.6 186.4,364.2 187.2,364.3 187.9,364.7 188.6,364.7 189.4,364.6 190.1,364.6 190.9,364.8 191.6,365.2 192.3,365.1 193.1,365.4 193.8,365.4 194.5,365.6 195.2,365.1 195.9,365.2 196.6,365.2 197.3,365.5 198.1,365.5 198.9,365.3 199.7,365.7 200.4,365.5 201.2,365.6 202.0,365.6 202.8,366.0 203.6,365.8 204.4,365.8 205.1,365.7 205.9,365.9 206.6,366.1 207.4,366.1 208.1,366.3 208.8,366.3 209.5,366.0 210.1,366.0 210.8,366.4 211.4,366.4 212.0,366.3 213.0,366.6 213.9,366.5 214.8,366.4 215.7,366.5 216.5,366.5 217.3,366.9 218.1,367.2 218.7,367.3 219.4,367.1 219.9,367.3 220.4,367.5 220.8,367.5" fill="none" stroke="#0a82e6" stroke-width="2.8" stroke-linejoin="round" stroke-linecap="round" />
<rect x="47.4" y="227.3" width="188" height="150.9" fill="none" stroke="#000" stroke-width="2.1"/>
<line x1="74.3" y1="377.2" x2="74.3" y2="374.2" stroke="#000" stroke-width="1.3"/>
<line x1="101.1" y1="377.2" x2="101.1" y2="374.2" stroke="#000" stroke-width="1.3"/>
<line x1="128.0" y1="377.2" x2="128.0" y2="374.2" stroke="#000" stroke-width="1.3"/>
<line x1="154.8" y1="377.2" x2="154.8" y2="374.2" stroke="#000" stroke-width="1.3"/>
<line x1="181.7" y1="377.2" x2="181.7" y2="374.2" stroke="#000" stroke-width="1.3"/>
<line x1="208.6" y1="377.2" x2="208.6" y2="374.2" stroke="#000" stroke-width="1.3"/>
<line x1="60.8" y1="377.2" x2="60.8" y2="375.7" stroke="#000" stroke-width="1.2"/>
<line x1="87.7" y1="377.2" x2="87.7" y2="375.7" stroke="#000" stroke-width="1.2"/>
<line x1="114.6" y1="377.2" x2="114.6" y2="375.7" stroke="#000" stroke-width="1.2"/>
<line x1="141.4" y1="377.2" x2="141.4" y2="375.7" stroke="#000" stroke-width="1.2"/>
<line x1="168.3" y1="377.2" x2="168.3" y2="375.7" stroke="#000" stroke-width="1.2"/>
<line x1="195.1" y1="377.2" x2="195.1" y2="375.7" stroke="#000" stroke-width="1.2"/>
<line x1="222.0" y1="377.2" x2="222.0" y2="375.7" stroke="#000" stroke-width="1.2"/>
<text x="47.4" y="391.8" font-size="12.2" font-weight="bold" fill="#000" text-anchor="middle" >0</text>
<text x="74.3" y="391.8" font-size="12.2" font-weight="bold" fill="#000" text-anchor="middle" >10</text>
<text x="101.1" y="391.8" font-size="12.2" font-weight="bold" fill="#000" text-anchor="middle" >20</text>
<text x="128.0" y="391.8" font-size="12.2" font-weight="bold" fill="#000" text-anchor="middle" >30</text>
<text x="154.8" y="391.8" font-size="12.2" font-weight="bold" fill="#000" text-anchor="middle" >40</text>
<text x="181.7" y="391.8" font-size="12.2" font-weight="bold" fill="#000" text-anchor="middle" >50</text>
<text x="208.6" y="391.8" font-size="12.2" font-weight="bold" fill="#000" text-anchor="middle" >60</text>
<text x="235.4" y="391.8" font-size="12.2" font-weight="bold" fill="#000" text-anchor="middle" >70</text>
<text x="107.3" y="410.4" font-size="12.6" font-weight="bold" fill="#000" text-anchor="start" >2θ (degree)</text>
<text x="168" y="244.1" font-size="9" font-weight="bold" fill="#000" text-anchor="start" letter-spacing="-0.28">PVA-DES-30</text>
<text x="168" y="273" font-size="9" font-weight="bold" fill="#000" text-anchor="start" letter-spacing="-0.28">PVA-DES-20</text>
<text x="168" y="301.3" font-size="9" font-weight="bold" fill="#000" text-anchor="start" letter-spacing="-0.28">PVA-DES-10</text>
<text x="188.6" y="356.2" font-size="9" font-weight="bold" fill="#000" text-anchor="start" letter-spacing="-0.28">PVA</text>
<text x="67.1" y="334.6" font-size="9" font-weight="bold" fill="#000" text-anchor="start" letter-spacing="-0.28">19.62°</text>
<text x="115.4" y="342.6" font-size="9" font-weight="bold" fill="#000" text-anchor="start" letter-spacing="-0.28">22.66°</text>
<text x="158.8" y="350.9" font-size="9" font-weight="bold" fill="#000" text-anchor="start" letter-spacing="-0.28">40.84°</text>
<text x="250" y="234.8" font-size="19.3" font-weight="bold" fill="#000" text-anchor="start" >(d)</text>
<text transform="translate(286.1,301.8) rotate(-90)" font-size="12.8" font-weight="bold" text-anchor="middle">Transmittance (%)</text>
<path d="M316.60,315.50 C317.68,315.17 318.98,314.27 323.10,313.50 C327.22,312.73 333.73,311.85 341.30,310.90 C348.87,309.95 359.42,308.77 368.50,307.80 C377.58,306.83 388.22,305.87 395.80,305.10 C403.38,304.33 404.97,304.02 414.00,303.20 C423.03,302.38 435.23,301.45 450.00,300.20 C464.77,298.95 493.83,296.45 502.60,295.70" fill="none" stroke="#0a82e6" stroke-width="2.1" stroke-linejoin="round" stroke-linecap="round" />
<path d="M316.60,288.50 C316.97,288.23 317.65,287.50 318.80,286.90 C319.95,286.30 321.32,285.70 323.50,284.90 C325.68,284.10 328.52,283.10 331.90,282.10 C335.28,281.10 339.83,279.88 343.80,278.90 C347.77,277.92 352.33,276.95 355.70,276.20 C359.07,275.45 359.95,275.22 364.00,274.40 C368.05,273.58 374.00,272.30 380.00,271.30 C386.00,270.30 393.33,269.30 400.00,268.40 C406.67,267.50 413.33,266.70 420.00,265.90 C426.67,265.10 431.67,264.37 440.00,263.60 C448.33,262.83 459.57,262.10 470.00,261.30 C480.43,260.50 497.17,259.22 502.60,258.80" fill="none" stroke="#199182" stroke-width="2.1" stroke-linejoin="round" stroke-linecap="round" />
<path d="M316.60,276.50 C316.97,276.13 317.65,274.98 318.80,274.30 C319.95,273.62 321.32,273.08 323.50,272.40 C325.68,271.72 328.52,270.95 331.90,270.20 C335.28,269.45 339.83,268.62 343.80,267.90 C347.77,267.18 352.33,266.40 355.70,265.90 C359.07,265.40 359.95,265.38 364.00,264.90 C368.05,264.42 374.00,263.68 380.00,263.00 C386.00,262.32 393.33,261.53 400.00,260.80 C406.67,260.07 413.33,259.30 420.00,258.60 C426.67,257.90 431.67,257.20 440.00,256.60 C448.33,256.00 459.57,255.53 470.00,255.00 C480.43,254.47 497.17,253.67 502.60,253.40" fill="none" stroke="#ebbe5a" stroke-width="2.1" stroke-linejoin="round" stroke-linecap="round" />
<path d="M316.60,272.10 C316.97,271.65 317.65,270.25 318.80,269.40 C319.95,268.55 321.32,267.90 323.50,267.00 C325.68,266.10 328.52,264.98 331.90,264.00 C335.28,263.02 339.83,261.88 343.80,261.10 C347.77,260.32 352.33,259.77 355.70,259.30 C359.07,258.83 359.95,258.80 364.00,258.30 C368.05,257.80 374.00,256.85 380.00,256.30 C386.00,255.75 393.33,255.42 400.00,255.00 C406.67,254.58 413.33,254.13 420.00,253.80 C426.67,253.47 431.67,253.23 440.00,253.00 C448.33,252.77 459.57,252.62 470.00,252.40 C480.43,252.18 497.17,251.82 502.60,251.70" fill="none" stroke="#eb0a50" stroke-width="2.1" stroke-linejoin="round" stroke-linecap="round" />
<path d="M336.2,337 L336.6,345.5 L341,344.5 L345,338 L341,336.5 Z" fill="#dcd8d8"/>
<path d="M324.50,372.80 C323.37,370.97 324.88,366.00 325.20,362.00 C325.52,358.00 325.85,353.00 326.40,348.80 C326.95,344.60 327.87,339.88 328.50,336.80 C329.13,333.72 329.47,331.75 330.20,330.30 C330.93,328.85 332.08,328.28 332.90,328.10 C333.72,327.92 334.53,327.75 335.10,329.20 C335.67,330.65 336.05,334.27 336.30,336.80 C336.55,339.33 336.23,342.87 336.60,344.40 C336.97,345.93 337.85,345.98 338.50,346.00 C339.15,346.02 339.50,345.75 340.50,344.50 C341.50,343.25 343.03,340.68 344.50,338.50 C345.97,336.32 347.23,334.23 349.30,331.40 C351.37,328.57 355.08,323.50 356.90,321.50 C358.72,319.50 359.30,319.57 360.20,319.40 C361.10,319.23 362.12,319.42 362.30,320.50 C362.48,321.58 362.57,323.18 361.30,325.90 C360.03,328.62 356.00,334.37 354.70,336.80 C353.40,339.23 353.28,340.38 353.50,340.50 C353.72,340.62 354.70,339.57 356.00,337.50 C357.30,335.43 359.52,330.58 361.30,328.10 C363.08,325.62 365.25,323.70 366.70,322.60 C368.15,321.50 369.08,321.40 370.00,321.50 C370.92,321.60 372.20,321.92 372.20,323.20 C372.20,324.48 371.47,326.93 370.00,329.20 C368.53,331.47 364.98,334.67 363.40,336.80 C361.82,338.93 360.73,341.27 360.50,342.00 C360.27,342.73 360.78,342.25 362.00,341.20 C363.22,340.15 365.75,337.33 367.80,335.70 C369.85,334.07 372.75,332.22 374.30,331.40 C375.85,330.58 376.37,330.63 377.10,330.80 C377.83,330.97 378.80,331.48 378.70,332.40 C378.60,333.32 377.95,334.83 376.50,336.30 C375.05,337.77 371.83,339.70 370.00,341.20 C368.17,342.70 365.75,344.92 365.50,345.30 C365.25,345.68 367.20,344.18 368.50,343.50 C369.80,342.82 372.05,341.68 373.30,341.20 C374.55,340.72 375.28,340.42 376.00,340.60 C376.72,340.78 377.70,341.48 377.60,342.30 C377.50,343.12 376.67,344.22 375.40,345.50 C374.13,346.78 371.90,348.25 370.00,350.00 C368.10,351.75 365.50,354.08 364.00,356.00 C362.50,357.92 361.75,360.00 361.00,361.50 C360.25,363.00 361.00,364.08 359.50,365.00 C358.00,365.92 354.58,366.25 352.00,367.00 C349.42,367.75 346.25,368.53 344.00,369.50 C341.75,370.47 340.50,372.22 338.50,372.80 C336.50,373.38 334.33,373.00 332.00,373.00 C329.67,373.00 325.63,374.63 324.50,372.80Z" fill="#2cd3b9"/>
<path d="M361.3,326 L355,336.5" stroke="#27a896" stroke-width="1" fill="none"/>
<path d="M370.2,329.5 L363.5,337" stroke="#27a896" stroke-width="1" fill="none"/>
<path d="M376.6,336.5 L370,341.5" stroke="#27a896" stroke-width="1" fill="none"/>
<path d="M375.5,345.6 L369,351" stroke="#27a896" stroke-width="1" fill="none"/>
<circle cx="348.8" cy="352.1" r="10.7" fill="#3fd8bc" stroke="#d8f2b8" stroke-width="0.9"/>
<line x1="337.9" y1="365.3" x2="359.8" y2="365.3" stroke="#c45a9a" stroke-width="0.9"/>
<text x="337.9" y="371.3" font-family="Liberation Serif, serif" font-size="6.9" font-weight="bold" fill="#111">d=5 cm</text>
<rect x="315.7" y="226.4" width="187.9" height="151" fill="none" stroke="#000" stroke-width="2.2"/>
<line x1="316.5" y1="350.8" x2="319.5" y2="350.8" stroke="#000" stroke-width="1.5"/>
<text x="310.6" y="354.9" font-size="11.7" font-weight="bold" fill="#000" text-anchor="end" >20</text>
<line x1="316.5" y1="323.1" x2="319.5" y2="323.1" stroke="#000" stroke-width="1.5"/>
<text x="310.6" y="327.2" font-size="11.7" font-weight="bold" fill="#000" text-anchor="end" >40</text>
<line x1="316.5" y1="295.4" x2="319.5" y2="295.4" stroke="#000" stroke-width="1.5"/>
<text x="310.6" y="299.6" font-size="11.7" font-weight="bold" fill="#000" text-anchor="end" >60</text>
<line x1="316.5" y1="267.8" x2="319.5" y2="267.8" stroke="#000" stroke-width="1.5"/>
<text x="310.6" y="271.9" font-size="11.7" font-weight="bold" fill="#000" text-anchor="end" >80</text>
<line x1="316.5" y1="240.1" x2="319.5" y2="240.1" stroke="#000" stroke-width="1.5"/>
<text x="310.6" y="244.2" font-size="11.7" font-weight="bold" fill="#000" text-anchor="end" >100</text>
<line x1="316.5" y1="364.6" x2="318.5" y2="364.6" stroke="#000" stroke-width="1.2"/>
<line x1="316.5" y1="336.9" x2="318.5" y2="336.9" stroke="#000" stroke-width="1.2"/>
<line x1="316.5" y1="309.3" x2="318.5" y2="309.3" stroke="#000" stroke-width="1.2"/>
<line x1="316.5" y1="281.6" x2="318.5" y2="281.6" stroke="#000" stroke-width="1.2"/>
<line x1="316.5" y1="254.0" x2="318.5" y2="254.0" stroke="#000" stroke-width="1.2"/>
<line x1="362.1" y1="376.5" x2="362.1" y2="373.5" stroke="#000" stroke-width="1.4"/>
<line x1="409.1" y1="376.5" x2="409.1" y2="373.5" stroke="#000" stroke-width="1.4"/>
<line x1="456.1" y1="376.5" x2="456.1" y2="373.5" stroke="#000" stroke-width="1.4"/>
<line x1="338.6" y1="376.5" x2="338.6" y2="375" stroke="#000" stroke-width="1.2"/>
<line x1="385.6" y1="376.5" x2="385.6" y2="375" stroke="#000" stroke-width="1.2"/>
<line x1="432.6" y1="376.5" x2="432.6" y2="375" stroke="#000" stroke-width="1.2"/>
<line x1="479.6" y1="376.5" x2="479.6" y2="375" stroke="#000" stroke-width="1.2"/>
<text x="315.1" y="391" font-size="11.7" font-weight="bold" fill="#000" text-anchor="middle" >400</text>
<text x="362.1" y="391" font-size="11.7" font-weight="bold" fill="#000" text-anchor="middle" >500</text>
<text x="409.1" y="391" font-size="11.7" font-weight="bold" fill="#000" text-anchor="middle" >600</text>
<text x="456.1" y="391" font-size="11.7" font-weight="bold" fill="#000" text-anchor="middle" >700</text>
<text x="503.1" y="391" font-size="11.7" font-weight="bold" fill="#000" text-anchor="middle" >800</text>
<text x="357.9" y="410" font-size="12.7" font-weight="bold" fill="#000" text-anchor="start" >Wavelength (nm)</text>
<line x1="424.3" y1="334.7" x2="445.3" y2="334.7" stroke="#0a82e6" stroke-width="2"/>
<text x="447" y="337.9" font-size="9" font-weight="bold" fill="#000" text-anchor="start" letter-spacing="-0.28">PVA</text>
<line x1="424.3" y1="345.5" x2="445.3" y2="345.5" stroke="#199182" stroke-width="2"/>
<text x="447" y="348.7" font-size="9" font-weight="bold" fill="#000" text-anchor="start" letter-spacing="-0.28">PVA-DES-10</text>
<line x1="424.3" y1="356.3" x2="445.3" y2="356.3" stroke="#ebbe5a" stroke-width="2"/>
<text x="447" y="359.5" font-size="9" font-weight="bold" fill="#000" text-anchor="start" letter-spacing="-0.28">PVA-DES-20</text>
<line x1="424.3" y1="367.1" x2="445.3" y2="367.1" stroke="#eb0a50" stroke-width="2"/>
<text x="447" y="370.3" font-size="9" font-weight="bold" fill="#000" text-anchor="start" letter-spacing="-0.28">PVA-DES-30</text>
</svg></body></html>
